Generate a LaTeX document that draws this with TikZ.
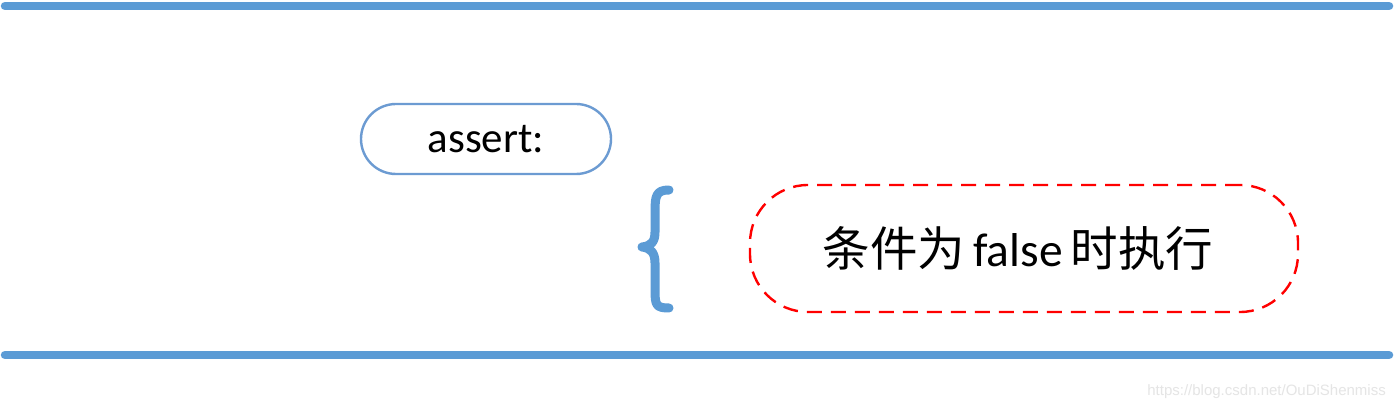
\documentclass[tikz,border=0pt]{standalone}
\usepackage{fontspec}
\setmainfont{Carlito}
\newfontfamily\cjk{Noto Sans CJK SC}
\newfontfamily\wm{Liberation Sans}
\definecolor{lineblue}{HTML}{5B9BD5}
\definecolor{boxblue}{HTML}{6C9BD2}
\begin{document}
\begin{tikzpicture}[x=1pt,y=-1pt,
  rule/.style={line width=8.5pt,draw=lineblue,line cap=round},
  pillbox/.style={draw=boxblue,line width=2.4pt,rounded corners=35pt,minimum width=250pt,minimum height=70pt,font=\fontsize{43}{45}\selectfont,inner sep=0pt},
  condbox/.style={draw=red,line width=2.4pt,dash pattern=on 15pt off 9pt,rounded corners=58pt,minimum width=548pt,minimum height=127pt,inner sep=0pt},
  bracestyle/.style={draw=lineblue,line width=9pt,line cap=round,line join=round}]
\useasboundingbox[fill=white] (0,0) rectangle (1394,411);
\coordinate (tl) at (5,6);
\coordinate (tr) at (1389,6);
\coordinate (bl) at (5,355);
\coordinate (br) at (1389,355);
\draw[rule] (tl) -- (tr);
\draw[rule] (bl) -- (br);
\node[pillbox] (assert) at (486,139) {assert:};
\node[condbox] (cond) at (1024,248.5) {\fontsize{47.5}{50}\selectfont\cjk 条件为\,{\rmfamily false}\,时执行\kern12pt};
\draw[bracestyle] (669,190) .. controls (656,190) and (655,196) .. (655,212)
  -- (655,232) .. controls (655,242) and (651,246) .. (642,247)
  .. controls (651,248) and (655,253) .. (655,263)
  -- (655,290) .. controls (655,305) and (656,308) .. (669,308);
\node[anchor=east,text=black!10,font=\wm\fontsize{15}{17}\selectfont,inner sep=0pt] (wmark) at (1386,392) {https://blog.csdn.net/OuDiShenmiss};
\end{tikzpicture}
\end{document}
